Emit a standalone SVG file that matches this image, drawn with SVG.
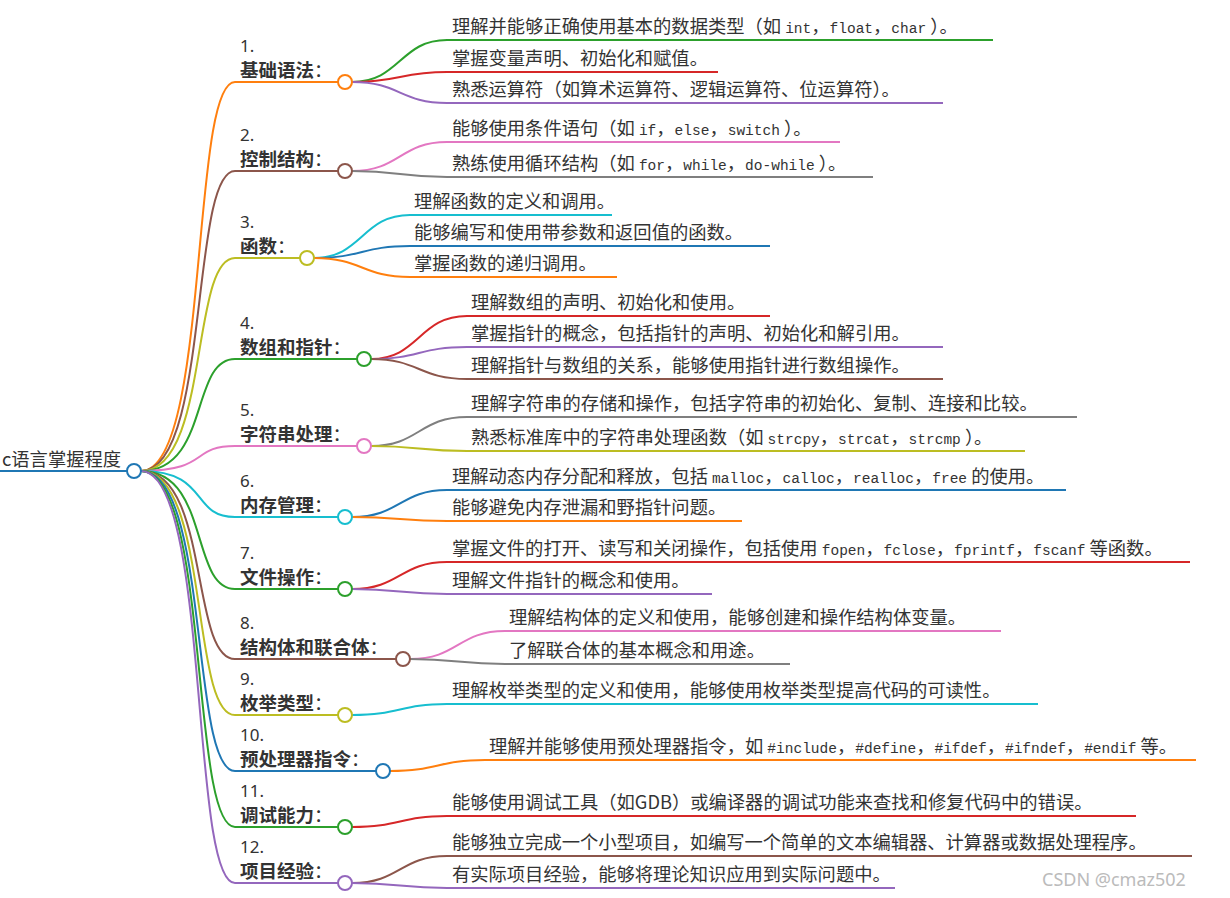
<svg xmlns="http://www.w3.org/2000/svg" width="1230" height="898" viewBox="0 0 1230 898">
<style>
.t{font-family:"Noto Sans CJK SC","Noto Sans",sans-serif;font-size:18.3px;fill:#333}
.b{font-family:"Noto Sans CJK SC","Noto Sans",sans-serif;font-size:18.5px;font-weight:bold;fill:#333}
.n{font-family:"Noto Sans","Noto Sans CJK SC",sans-serif;font-size:17px;fill:#333}
.c{font-family:"Liberation Mono",monospace;font-size:14.5px}
path{fill:none;stroke-width:2}
circle{fill:#fff;stroke-width:2}
</style>
<rect width="1230" height="898" fill="#fff"/>
<g id="connectors">
<path d="M0,471H127" stroke="#1f77b4" stroke-width="3"/>
<path d="M141,471C210,471 190,82 235,82H338" stroke="#ff7f0e"/>
<path d="M141,471C210,471 190,171 235,171H338" stroke="#8c564b"/>
<path d="M141,471C210,471 190,258 235,258H300" stroke="#bcbd22"/>
<path d="M141,471C210,471 190,359 235,359H357" stroke="#2ca02c"/>
<path d="M141,471C210,471 190,446 235,446H357" stroke="#e377c2"/>
<path d="M141,471C210,471 190,517 235,517H338" stroke="#17becf"/>
<path d="M141,471C210,471 190,589 235,589H338" stroke="#2ca02c"/>
<path d="M141,471C210,471 190,659 235,659H396" stroke="#8c564b"/>
<path d="M141,471C210,471 190,715 235,715H338" stroke="#bcbd22"/>
<path d="M141,471C210,471 190,771 235,771H376" stroke="#1f77b4"/>
<path d="M141,471C210,471 190,827 235,827H338" stroke="#2ca02c"/>
<path d="M141,471C210,471 190,883 235,883H338" stroke="#9467bd"/>
<path d="M352,82C400,82 400,40 447,40H993" stroke="#2ca02c"/>
<path d="M352,82C400,82 400,72 447,72H718" stroke="#d62728"/>
<path d="M352,82C400,82 400,103 447,103H943" stroke="#9467bd"/>
<path d="M352,171C400,171 400,142 447,142H840" stroke="#e377c2"/>
<path d="M352,171C400,171 400,177 447,177H873" stroke="#7f7f7f"/>
<path d="M314,258C362,258 362,215 410,215H612" stroke="#17becf"/>
<path d="M314,258C362,258 362,246 410,246H770" stroke="#1f77b4"/>
<path d="M314,258C362,258 362,277 410,277H617" stroke="#ff7f0e"/>
<path d="M371,359C419,359 419,316 467,316H770" stroke="#d62728"/>
<path d="M371,359C419,359 419,347 467,347H943" stroke="#9467bd"/>
<path d="M371,359C419,359 419,379 467,379H943" stroke="#8c564b"/>
<path d="M371,446C419,446 419,417 467,417H1077" stroke="#7f7f7f"/>
<path d="M371,446C419,446 419,451 467,451H1025" stroke="#bcbd22"/>
<path d="M352,517C400,517 400,490 447,490H1066" stroke="#1f77b4"/>
<path d="M352,517C400,517 400,521 447,521H742" stroke="#ff7f0e"/>
<path d="M352,589C400,589 400,562 447,562H1190" stroke="#d62728"/>
<path d="M352,589C400,589 400,594 447,594H712" stroke="#9467bd"/>
<path d="M410,659C458,659 458,631 505,631H1001" stroke="#e377c2"/>
<path d="M410,659C458,659 458,664 505,664H790" stroke="#7f7f7f"/>
<path d="M352,715C400,715 400,704 447,704H1038" stroke="#17becf"/>
<path d="M390,771C438,771 438,760 485,760H1196" stroke="#ff7f0e"/>
<path d="M352,827C400,827 400,816 447,816H1136" stroke="#d62728"/>
<path d="M352,883C400,883 400,856 447,856H1192" stroke="#8c564b"/>
<path d="M352,883C400,883 400,888 447,888H895" stroke="#9467bd"/>
</g>
<g id="root"><text class="t" x="2" y="466">c语言掌握程度</text><circle cx="134" cy="471" r="7" stroke="#1f77b4"/></g>
<g id="n1"><text class="n" x="240" y="52">1.</text><text class="b" x="240" y="77">基础语法<tspan font-weight="normal">：</tspan></text><circle cx="345" cy="82" r="7" stroke="#ff7f0e"/></g>
<g id="n2"><text class="n" x="240" y="141">2.</text><text class="b" x="240" y="166">控制结构<tspan font-weight="normal">：</tspan></text><circle cx="345" cy="171" r="7" stroke="#8c564b"/></g>
<g id="n3"><text class="n" x="240" y="228">3.</text><text class="b" x="240" y="253">函数<tspan font-weight="normal">：</tspan></text><circle cx="307" cy="258" r="7" stroke="#bcbd22"/></g>
<g id="n4"><text class="n" x="240" y="329">4.</text><text class="b" x="240" y="354">数组和指针<tspan font-weight="normal">：</tspan></text><circle cx="364" cy="359" r="7" stroke="#2ca02c"/></g>
<g id="n5"><text class="n" x="240" y="416">5.</text><text class="b" x="240" y="441">字符串处理<tspan font-weight="normal">：</tspan></text><circle cx="364" cy="446" r="7" stroke="#e377c2"/></g>
<g id="n6"><text class="n" x="240" y="487">6.</text><text class="b" x="240" y="512">内存管理<tspan font-weight="normal">：</tspan></text><circle cx="345" cy="517" r="7" stroke="#17becf"/></g>
<g id="n7"><text class="n" x="240" y="559">7.</text><text class="b" x="240" y="584">文件操作<tspan font-weight="normal">：</tspan></text><circle cx="345" cy="589" r="7" stroke="#2ca02c"/></g>
<g id="n8"><text class="n" x="240" y="629">8.</text><text class="b" x="240" y="654">结构体和联合体<tspan font-weight="normal">：</tspan></text><circle cx="403" cy="659" r="7" stroke="#8c564b"/></g>
<g id="n9"><text class="n" x="240" y="685">9.</text><text class="b" x="240" y="710">枚举类型<tspan font-weight="normal">：</tspan></text><circle cx="345" cy="715" r="7" stroke="#bcbd22"/></g>
<g id="n10"><text class="n" x="240" y="741">10.</text><text class="b" x="240" y="766">预处理器指令<tspan font-weight="normal">：</tspan></text><circle cx="383" cy="771" r="7" stroke="#1f77b4"/></g>
<g id="n11"><text class="n" x="240" y="797">11.</text><text class="b" x="240" y="822">调试能力<tspan font-weight="normal">：</tspan></text><circle cx="345" cy="827" r="7" stroke="#2ca02c"/></g>
<g id="n12"><text class="n" x="240" y="853">12.</text><text class="b" x="240" y="878">项目经验<tspan font-weight="normal">：</tspan></text><circle cx="345" cy="883" r="7" stroke="#9467bd"/></g>
<g id="leaves">
<text class="t" x="452" y="33">理解并能够正确使用基本的数据类型（如 <tspan class="c">int</tspan>，<tspan class="c">float</tspan>，<tspan class="c">char</tspan> ）。</text>
<text class="t" x="452" y="65">掌握变量声明、初始化和赋值。</text>
<text class="t" x="452" y="96">熟悉运算符（如算术运算符、逻辑运算符、位运算符）。</text>
<text class="t" x="452" y="135">能够使用条件语句（如 <tspan class="c">if</tspan>，<tspan class="c">else</tspan>，<tspan class="c">switch</tspan> ）。</text>
<text class="t" x="452" y="170">熟练使用循环结构（如 <tspan class="c">for</tspan>，<tspan class="c">while</tspan>，<tspan class="c">do-while</tspan> ）。</text>
<text class="t" x="414" y="208">理解函数的定义和调用。</text>
<text class="t" x="414" y="239">能够编写和使用带参数和返回值的函数。</text>
<text class="t" x="414" y="270">掌握函数的递归调用。</text>
<text class="t" x="471" y="309">理解数组的声明、初始化和使用。</text>
<text class="t" x="471" y="340">掌握指针的概念，包括指针的声明、初始化和解引用。</text>
<text class="t" x="471" y="372">理解指针与数组的关系，能够使用指针进行数组操作。</text>
<text class="t" x="471" y="410">理解字符串的存储和操作，包括字符串的初始化、复制、连接和比较。</text>
<text class="t" x="471" y="444">熟悉标准库中的字符串处理函数（如 <tspan class="c">strcpy</tspan>，<tspan class="c">strcat</tspan>，<tspan class="c">strcmp</tspan> ）。</text>
<text class="t" x="452" y="483">理解动态内存分配和释放，包括 <tspan class="c">malloc</tspan>，<tspan class="c">calloc</tspan>，<tspan class="c">realloc</tspan>，<tspan class="c">free</tspan> 的使用。</text>
<text class="t" x="452" y="514">能够避免内存泄漏和野指针问题。</text>
<text class="t" x="452" y="555">掌握文件的打开、读写和关闭操作，包括使用 <tspan class="c">fopen</tspan>，<tspan class="c">fclose</tspan>，<tspan class="c">fprintf</tspan>，<tspan class="c">fscanf</tspan> 等函数。</text>
<text class="t" x="452" y="587">理解文件指针的概念和使用。</text>
<text class="t" x="509" y="624">理解结构体的定义和使用，能够创建和操作结构体变量。</text>
<text class="t" x="509" y="657">了解联合体的基本概念和用途。</text>
<text class="t" x="452" y="697">理解枚举类型的定义和使用，能够使用枚举类型提高代码的可读性。</text>
<text class="t" x="489" y="753">理解并能够使用预处理器指令，如 <tspan class="c">#include</tspan>，<tspan class="c">#define</tspan>，<tspan class="c">#ifdef</tspan>，<tspan class="c">#ifndef</tspan>，<tspan class="c">#endif</tspan> 等。</text>
<text class="t" x="452" y="809">能够使用调试工具（如GDB）或编译器的调试功能来查找和修复代码中的错误。</text>
<text class="t" x="452" y="849">能够独立完成一个小型项目，如编写一个简单的文本编辑器、计算器或数据处理程序。</text>
<text class="t" x="452" y="881">有实际项目经验，能够将理论知识应用到实际问题中。</text>
</g>
<text x="1042" y="886" style="font-family:'Noto Sans',sans-serif;font-size:18px;fill:#bbb">CSDN @cmaz502</text>
</svg>
